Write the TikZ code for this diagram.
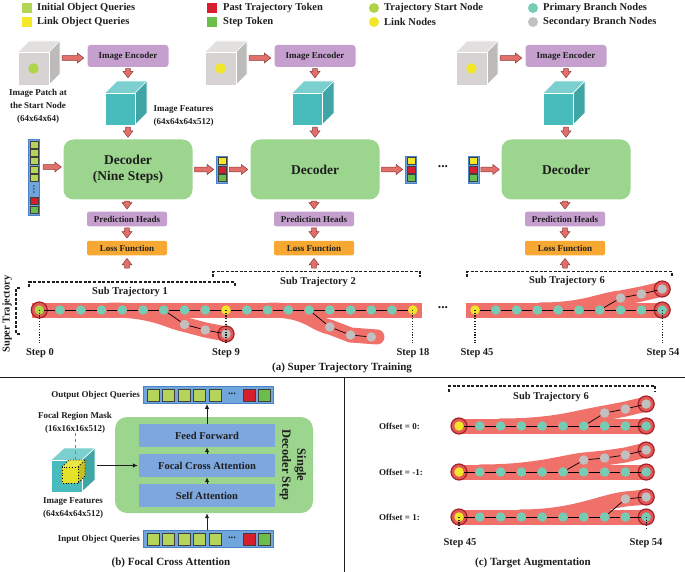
\documentclass[tikz,border=0pt]{standalone}
\usepackage{fontspec}
\setmainfont{Liberation Serif}
\usetikzlibrary{calc,arrows.meta}
\definecolor{txt}{RGB}{30,30,30}
\definecolor{qgreen}{RGB}{180,213,90}
\definecolor{qyellow}{RGB}{245,232,40}
\definecolor{qred}{RGB}{214,30,45}
\definecolor{qstep}{RGB}{106,190,76}
\definecolor{colblue}{RGB}{112,166,220}
\definecolor{coledge}{RGB}{74,130,200}
\definecolor{nteal}{RGB}{118,203,180}
\definecolor{ngray}{RGB}{192,192,192}
\definecolor{nstart}{RGB}{176,212,72}
\definecolor{nyellow}{RGB}{242,230,40}
\definecolor{ribbon}{RGB}{240,112,106}
\definecolor{ringfill}{RGB}{226,88,86}
\definecolor{ringedge}{RGB}{165,35,40}
\definecolor{purp}{RGB}{197,160,207}
\definecolor{decg}{RGB}{155,213,142}
\definecolor{orng}{RGB}{247,168,50}
\definecolor{tealc}{RGB}{72,188,188}
\definecolor{grayc}{RGB}{215,211,211}
\definecolor{blueb}{RGB}{126,167,222}
\definecolor{arrfill}{RGB}{226,112,106}
\definecolor{arredge}{RGB}{140,55,55}
\definecolor{fyellow}{RGB}{228,226,40}
\newcommand{\mycube}[7]{%
 \fill[#7] (#1,#2) rectangle ++(#3,#4);
 \fill[#7!72!white] (#1,#2) -- ++(#5,-#6) -- ++(#3,0) -- ++(-#5,#6) -- cycle;
 \fill[#7!88!black] ({#1+#3},#2) -- ++(#5,-#6) -- ++(0,#4) -- ++(-#5,#6) -- cycle;
 \draw[white, line width=0.7pt, line join=round] (#1,#2) rectangle ++(#3,#4);
 \draw[white, line width=0.7pt, line join=round] (#1,#2) -- ++(#5,-#6) -- ++(#3,0) -- ++(0,#4) -- ++(-#5,#6);
 \draw[white, line width=0.7pt] ({#1+#3},#2) -- ++(#5,-#6);
}
\tikzset{
 t9/.style={font=\fontsize{9}{13}\selectfont\bfseries, text=txt, inner sep=0pt},
 t10/.style={font=\fontsize{10.5}{13}\selectfont\bfseries, text=txt, inner sep=0pt},
 t11/.style={font=\fontsize{11}{13}\selectfont\bfseries, text=txt, inner sep=0pt},
 t13/.style={font=\fontsize{13.5}{16}\selectfont\bfseries, text=txt, inner sep=0pt},
 encbox/.style={t9, fill=purp, rounded corners=3pt, minimum width=81pt, minimum height=22pt},
 headbox/.style={t9, fill=purp, rounded corners=2pt, minimum width=80pt, minimum height=14.5pt},
 lossbox/.style={t9, fill=orng, rounded corners=2pt, minimum width=80pt, minimum height=14.5pt},
 decbox/.style={t13, fill=decg, rounded corners=10pt, minimum width=129pt, minimum height=60pt, align=center},
 bluebox/.style={t10, fill=blueb, minimum width=136pt, minimum height=23pt},
 colbg/.style={fill=colblue, draw=coledge, line width=0.6pt, inner sep=0pt},
 sq/.style={draw=black!75, line width=0.4pt, inner sep=0pt, minimum width=8pt, minimum height=7pt},
 bsq/.style={draw=black!75, line width=0.5pt, inner sep=0pt, minimum size=12pt},
 legsq/.style={inner sep=0pt, minimum size=10pt},
 legci/.style={circle, inner sep=0pt, minimum size=10pt},
 nprim/.style={circle, inner sep=0pt, minimum size=9.5pt, fill=nteal},
 nsec/.style={nprim, fill=ngray},
 nlink/.style={nprim, fill=nyellow},
 nstrt/.style={nprim, fill=nstart},
 ringn/.style={circle, fill=ringfill, draw=ringedge, line width=1.2pt, inner sep=0pt, minimum size=16pt},
 rib/.style={draw=ribbon, line width=15pt},
 link/.style={draw=black, line width=0.7pt},
 brk/.style={draw=txt, line width=1.1pt, dash pattern=on 3pt off 1.6pt},
 stepline/.style={draw=txt, line width=1.2pt, dash pattern=on 1.2pt off 1.5pt},
 thinarr/.style={draw=txt, line width=1pt, -{Latex[length=5pt,width=4.5pt]}},
 fatarrow/.style={draw=arredge, fill=arrfill, line width=0.5pt,
  to path={let \p1=(\tikztostart), \p2=(\tikztotarget),
    \n1={atan2(\y2-\y1,\x2-\x1)}, \n2={veclen(\x2-\x1,\y2-\y1)} in
    ([shift={(\p1)},rotate=\n1]0pt,2.3pt) --
    ([shift={(\p1)},rotate=\n1]{\n2-6.5pt},2.3pt) --
    ([shift={(\p1)},rotate=\n1]{\n2-6.5pt},5pt) --
    ([shift={(\p1)},rotate=\n1]\n2,0pt) --
    ([shift={(\p1)},rotate=\n1]{\n2-6.5pt},-5pt) --
    ([shift={(\p1)},rotate=\n1]{\n2-6.5pt},-2.3pt) --
    ([shift={(\p1)},rotate=\n1]0pt,-2.3pt) -- cycle}}
}
\begin{document}
\begin{tikzpicture}[x=1pt,y=-1pt]
\useasboundingbox (0,0) rectangle (685,572);

% ---------------- legend ----------------
\node[legsq, fill=qgreen] (lg1) at (27,8) {};
\node[t10, anchor=west] (lt1) at (37,8) {Initial Object Queries};
\node[legsq, fill=qyellow] (lg2) at (27,22) {};
\node[t10, anchor=west] (lt2) at (37,22) {Link Object Queries};
\node[legsq, fill=qred] (lg3) at (212,8) {};
\node[t10, anchor=west] (lt3) at (223,8) {Past Trajectory Token};
\node[legsq, fill=qstep] (lg4) at (212,22) {};
\node[t10, anchor=west] (lt4) at (223,22) {Step Token};
\node[legci, fill=nstart] (lg5) at (374,8) {};
\node[t10, anchor=west] (lt5) at (384,8) {Trajectory Start Node};
\node[legci, fill=nyellow] (lg6) at (374,22) {};
\node[t10, anchor=west] (lt6) at (384,22) {Link Nodes};
\node[legci, fill=nteal] (lg7) at (533,8) {};
\node[t10, anchor=west] (lt7) at (543,8) {Primary Branch Nodes};
\node[legci, fill=ngray] (lg8) at (533,22) {};
\node[t10, anchor=west] (lt8) at (543,22) {Secondary Branch Nodes};

% ---------------- three decoder blocks ----------------
\foreach \b/\cx/\gx/\dotc/\dtext in {1/128/18/nstart/{Decoder\\(Nine Steps)}, 2/315/205/nyellow/Decoder, 3/566/456/nyellow/Decoder} {
  \mycube{\gx}{52}{31}{33}{11}{11}{grayc}
  \node[circle, fill=\dotc, minimum size=10.5pt, inner sep=0pt] (dot\b) at (\gx+15.5,68.5) {};
  \node[inner sep=0pt, minimum width=42pt, minimum height=44pt] (patch\b) at (\gx+21,63) {};
  \node[encbox] (enc\b) at (\cx,56) {Image Encoder};
  \mycube{\cx-23}{93}{30}{32}{12}{12}{tealc}
  \node[inner sep=0pt, minimum width=42pt, minimum height=44pt] (feat\b) at (\cx-2,103) {};
  \node[decbox] (dec\b) at (\cx,169.5) {\dtext};
  \node[headbox] (ph\b) at (\cx-1,219) {Prediction Heads};
  \node[lossbox] (lf\b) at (\cx-1,248) {Loss Function};
  \coordinate (up\b) at (\cx-1,268);
  \draw[fatarrow] ($(patch\b.east |- 0,58)+(2,0)$) to ($(enc\b.west |- 0,58)+(-3.5,0)$);
  \draw[fatarrow] ($(enc\b.south)+(0,1.5)$) to ($(enc\b.south |- feat\b.north)+(0,-3)$);
  \draw[fatarrow] ($(dec\b.north |- feat\b.south)+(0,2)$) to ($(dec\b.north)+(0,-2)$);
  \draw[fatarrow] ($(ph\b.north |- dec\b.south)+(0,1.5)$) to ($(ph\b.north)+(0,-2.5)$);
  \draw[fatarrow] ($(ph\b.south)+(0,1.5)$) to ($(lf\b.north)+(0,-2.5)$);
  \draw[fatarrow] (up\b) to ($(lf\b.south)+(0,3)$);
}

% image patch / feature labels (block 1)
\node[t9, align=center] (patchlab) at (38,106) {Image Patch at\\the Start Node\\(64x64x64)};
\node[t9, align=center] (featlab) at (183.5,116) {Image Features\\(64x64x64x512)};

% query columns
\node[colbg, minimum width=11pt, minimum height=76pt] (col1) at (33.8,177) {};
\foreach \k in {0,...,4} \node[sq, fill=qgreen] (c1q\k) at (33.8,{144.5+8.3*\k}) {};
\foreach \k in {0,1,2} \fill[txt] (33.8,{186+3*\k}) circle (0.8pt);
\node[sq, fill=qred] (c1r) at (33.8,200.5) {};
\node[sq, fill=qstep] (c1s) at (33.8,209.5) {};

\foreach \n/\x in {out1/222, out2/411, in3/473.5} {
  \node[colbg, minimum width=11pt, minimum height=27pt] (\n) at (\x,169.5) {};
  \node[sq, fill=qyellow] (\n y) at (\x,161) {};
  \node[sq, fill=qred] (\n r) at (\x,169.5) {};
  \node[sq, fill=qstep] (\n s) at (\x,178) {};
}
\draw[fatarrow] ($(col1.east |- dec1.west)+(3.5,-2.5)$) to ($(dec1.west)+(-2,-2.5)$);
\draw[fatarrow] ($(dec1.east)+(2,0)$) to ($(out1.west)+(-2.5,0)$);
\draw[fatarrow] ($(out1.east)+(1.5,0)$) to ($(dec2.west)+(-2.5,0)$);
\draw[fatarrow] ($(dec2.east)+(2,0)$) to ($(out2.west)+(-2.5,0)$);
\draw[fatarrow] ($(in3.east)+(1.5,0)$) to ($(dec3.west)+(-2,0)$);
\node[t13] (dots1) at (443,167) {...};

% ---------------- super trajectory ----------------
\draw[brk] (29,287) -- (29,282) -- (235,282) -- (235,287);
\node[t10] (st1) at (130,292) {Sub Trajectory 1};
\draw[brk] (213,277) -- (213,271.5) -- (420,271.5) -- (420,277);
\node[t10] (st2) at (318,282) {Sub Trajectory 2};
\draw[brk] (467,277) -- (467,271.5) -- (672,271.5) -- (672,277);
\node[t10] (st6) at (567,281) {Sub Trajectory 6};
\draw[brk] (20,288) -- (16,288) -- (16,334) -- (20,334);
\node[t10, rotate=90] (suptr) at (7,314) {Super Trajectory};

% ribbons
\draw[rib] (32,310) -- (422,310);
\draw[rib, line cap=round, line join=round] (110,310) .. controls (155,310) and (167,321) .. (184.55,324.5) -- (205.3,330) -- (226.05,334);
\draw[rib, line cap=round, line join=round] (270,310) .. controls (308,310) and (313,324) .. (329.8,327) -- (350.55,335) -- (377,337);
\draw[rib] (466,310) -- (662.2,310);
\draw[rib, line cap=round, line join=round] (540,310) .. controls (585,310) and (600,300) .. (620.6,298) -- (641.4,294) -- (662.2,289);
\node[ringn] (rga) at (39.3,310) {};
\node[ringn] (rgb) at (226.05,334) {};
\node[ringn] (rgd) at (662.2,310) {};
\node[ringn] (rge) at (662.2,289) {};

% nodes
\node[nstrt] (a0) at (39.3,310) {};
\foreach \i in {1,...,8,10,11,...,17} \node[nprim] (a\i) at ({39.3+20.75*\i},310) {};
\node[nlink] (a9) at (226.05,310) {};
\node[nlink] (a18) at (412.8,310) {};
\foreach \i [count=\j from 1] in {0,...,17} \draw[link] (a\i) -- (a\j);
\node[nsec] (b1) at (184.55,324.5) {};
\node[nsec] (b2) at (205.3,330) {};
\node[nsec] (b3) at (226.05,334) {};
\draw[link] (a6) -- (b1) -- (b2) -- (b3);
\node[nsec] (c1) at (329.8,327) {};
\node[nsec] (c2) at (350.55,335) {};
\node[nsec] (c3) at (371.3,337) {};
\draw[link] (a13) -- (c1) -- (c2) -- (c3);

\node[nlink] (d0) at (475,310) {};
\foreach \k in {1,...,9} \node[nprim] (d\k) at ({475+20.8*\k},310) {};
\foreach \i [count=\j from 1] in {0,...,8} \draw[link] (d\i) -- (d\j);
\node[nsec] (e1) at (620.6,298) {};
\node[nsec] (e2) at (641.4,294) {};
\node[nsec] (e3) at (662.2,289) {};
\draw[link] (d6) -- (e1) -- (e2) -- (e3);
\node[t13] (dots2) at (443,308) {...};

\coordinate (sbase) at (0,343);
\foreach \n in {a0,a9,a18,d0,d9} \draw[stepline] (\n.center) -- (\n.center |- sbase);
\node[t10] (sp0) at (40,353) {Step 0};
\node[t10] (sp9) at (226,353) {Step 9};
\node[t10] (sp18) at (413,353) {Step 18};
\node[t10] (sp45) at (477,353) {Step 45};
\node[t10] (sp54) at (663,353) {Step 54};

\node[t11] (capa) at (342,368) {(a) Super Trajectory Training};
\draw[txt, line width=0.8pt] (0,377) -- (685,377);
\draw[txt, line width=0.8pt] (344,377) -- (344,572);

% ---------------- (b) focal cross attention ----------------
\node[fill=decg, rounded corners=12pt, minimum width=198pt, minimum height=96pt, inner sep=0pt] (gbox) at (214,465) {};
\node[bluebox] (ff) at (207,435.5) {Feed Forward};
\node[bluebox] (fca) at (207,465.5) {Focal Cross Attention};
\node[bluebox] (sa) at (207,495.5) {Self Attention};
\node[t13, rotate=-90, align=center, font=\fontsize{12.5}{15}\selectfont\bfseries] (sds) at (293,465) {Single\\Decoder Step};
\draw[thinarr] (sa.north) -- (fca.south);
\draw[thinarr] (fca.north) -- (ff.south);

\foreach \r/\yy in {outrow/395, inrow/539} {
  \node[colbg, minimum width=130pt, minimum height=17pt] (\r) at (208,\yy) {};
  \foreach \x [count=\c] in {152.8,168.3,183.8,199.5,215} \node[bsq, fill=qgreen] (\r g\c) at (\x,\yy) {};
  \node[t10] (\r d) at (232,\yy-1.5) {...};
  \node[bsq, fill=qred] (\r r) at (249.2,\yy) {};
  \node[bsq, fill=qstep] (\r s) at (264.5,\yy) {};
}
\node[t9, anchor=east] (outlab) at (140,395) {Output Object Queries};
\node[t9, anchor=east] (inlab) at (140,539) {Input Object Queries};
\draw[thinarr] (ff.north) -- (ff.north |- outrow.south);
\draw[thinarr] (inrow.north -| ff) -- (gbox.south -| ff);

\mycube{51}{460}{31}{32}{13}{12}{tealc}
\fill[fyellow] (62,467) rectangle ++(16,16);
\fill[fyellow!85!white] (62,467) -- ++(7,-7) -- ++(16,0) -- ++(-7,7) -- cycle;
\fill[fyellow!85!black] (78,467) -- ++(7,-7) -- ++(0,16) -- ++(-7,7) -- cycle;
\draw[black, line width=0.8pt, dotted] (62,467) rectangle ++(16,16);
\draw[black, line width=0.8pt, dotted] (62,467) -- ++(7,-7) -- ++(16,0) -- ++(0,16) -- ++(-7,7);
\draw[black, line width=0.8pt, dotted] (78,467) -- ++(7,-7);
\node[inner sep=0pt, minimum width=44pt, minimum height=44pt] (fcube) at (73,470) {};
\node[t9, align=center] (frm) at (75,422.5) {Focal Region Mask\\(16x16x16x512)};
\coordinate (ytop) at (75,460);
\draw[gray, line width=0.8pt, dashed] (frm.south) -- (ytop);
\node[t9, align=center] (iflab) at (73,508.5) {Image Features\\(64x64x64x512)};
\draw[thinarr] ($(fcube.east |- fca)+(2,0)$) -- ($(fca.west)+(-1,0)$);
\node[t11] (capb) at (171,563) {(b) Focal Cross Attention};

% ---------------- (c) target augmentation ----------------
\draw[brk] (449,391.5) -- (449,386) -- (655,386) -- (655,391.5);
\node[t10] (st6c) at (551,397) {Sub Trajectory 6};
\foreach \r/\yy in {1/426,2/472,3/517} \draw[rib, line cap=round] (459,\yy) -- (646.2,\yy);
\draw[rib, line cap=round, line join=round] (500,426) .. controls (555,426) and (575,418) .. (604.6,413) -- (625.4,409) -- (646.2,404);
\draw[rib, line cap=round, line join=round] (480,472) .. controls (535,472) and (560,463) .. (583.8,460) -- (604.6,458) -- (625.4,455) -- (646.2,450);
\draw[rib, line cap=round, line join=round] (520,517) .. controls (575,517) and (600,502) .. (625.4,499) -- (646.2,497);
\foreach \r/\yy in {1/426,2/472,3/517} {
  \node[ringn] (rs\r) at (459,\yy) {};
  \node[ringn] (re\r) at (646.2,\yy) {};
}
\node[ringn] (rb1) at (646.2,404) {};
\node[ringn] (rb2) at (646.2,450) {};
\node[ringn] (rb3) at (646.2,497) {};
\foreach \r/\yy in {1/426,2/472,3/517} {
  \node[nlink] (q\r0) at (459,\yy) {};
  \foreach \k in {1,...,9} \node[nprim] (q\r\k) at ({459+20.8*\k},\yy) {};
  \foreach \k [count=\j from 1] in {0,...,8} \draw[link] (q\r\k) -- (q\r\j);
}
\node[nsec] (g17) at (604.6,413) {};
\node[nsec] (g18) at (625.4,409) {};
\node[nsec] (g19) at (646.2,404) {};
\draw[link] (q16) -- (g17) -- (g18) -- (g19);
\node[nsec] (g26) at (583.8,460) {};
\node[nsec] (g27) at (604.6,458) {};
\node[nsec] (g28) at (625.4,455) {};
\node[nsec] (g29) at (646.2,450) {};
\draw[link] (q25) -- (g26) -- (g27) -- (g28) -- (g29);
\node[nsec] (g38) at (625.4,499) {};
\node[nsec] (g39) at (646.2,497) {};
\draw[link] (q37) -- (g38) -- (g39);
\node[t9, anchor=west] (of1) at (379,426) {Offset = 0:};
\node[t9, anchor=west] (of2) at (379,472) {Offset = -1:};
\node[t9, anchor=west] (of3) at (379,517) {Offset = 1:};
\coordinate (cbase) at (0,528);
\draw[stepline] (q30.center) -- (q30.center |- cbase);
\draw[stepline] (q39.center) -- (q39.center |- cbase);
\node[t10] (sc45) at (460,543) {Step 45};
\node[t10] (sc54) at (646,543) {Step 54};
\node[t11] (capc) at (533,563) {(c) Target Augmentation};
\end{tikzpicture}
\end{document}
